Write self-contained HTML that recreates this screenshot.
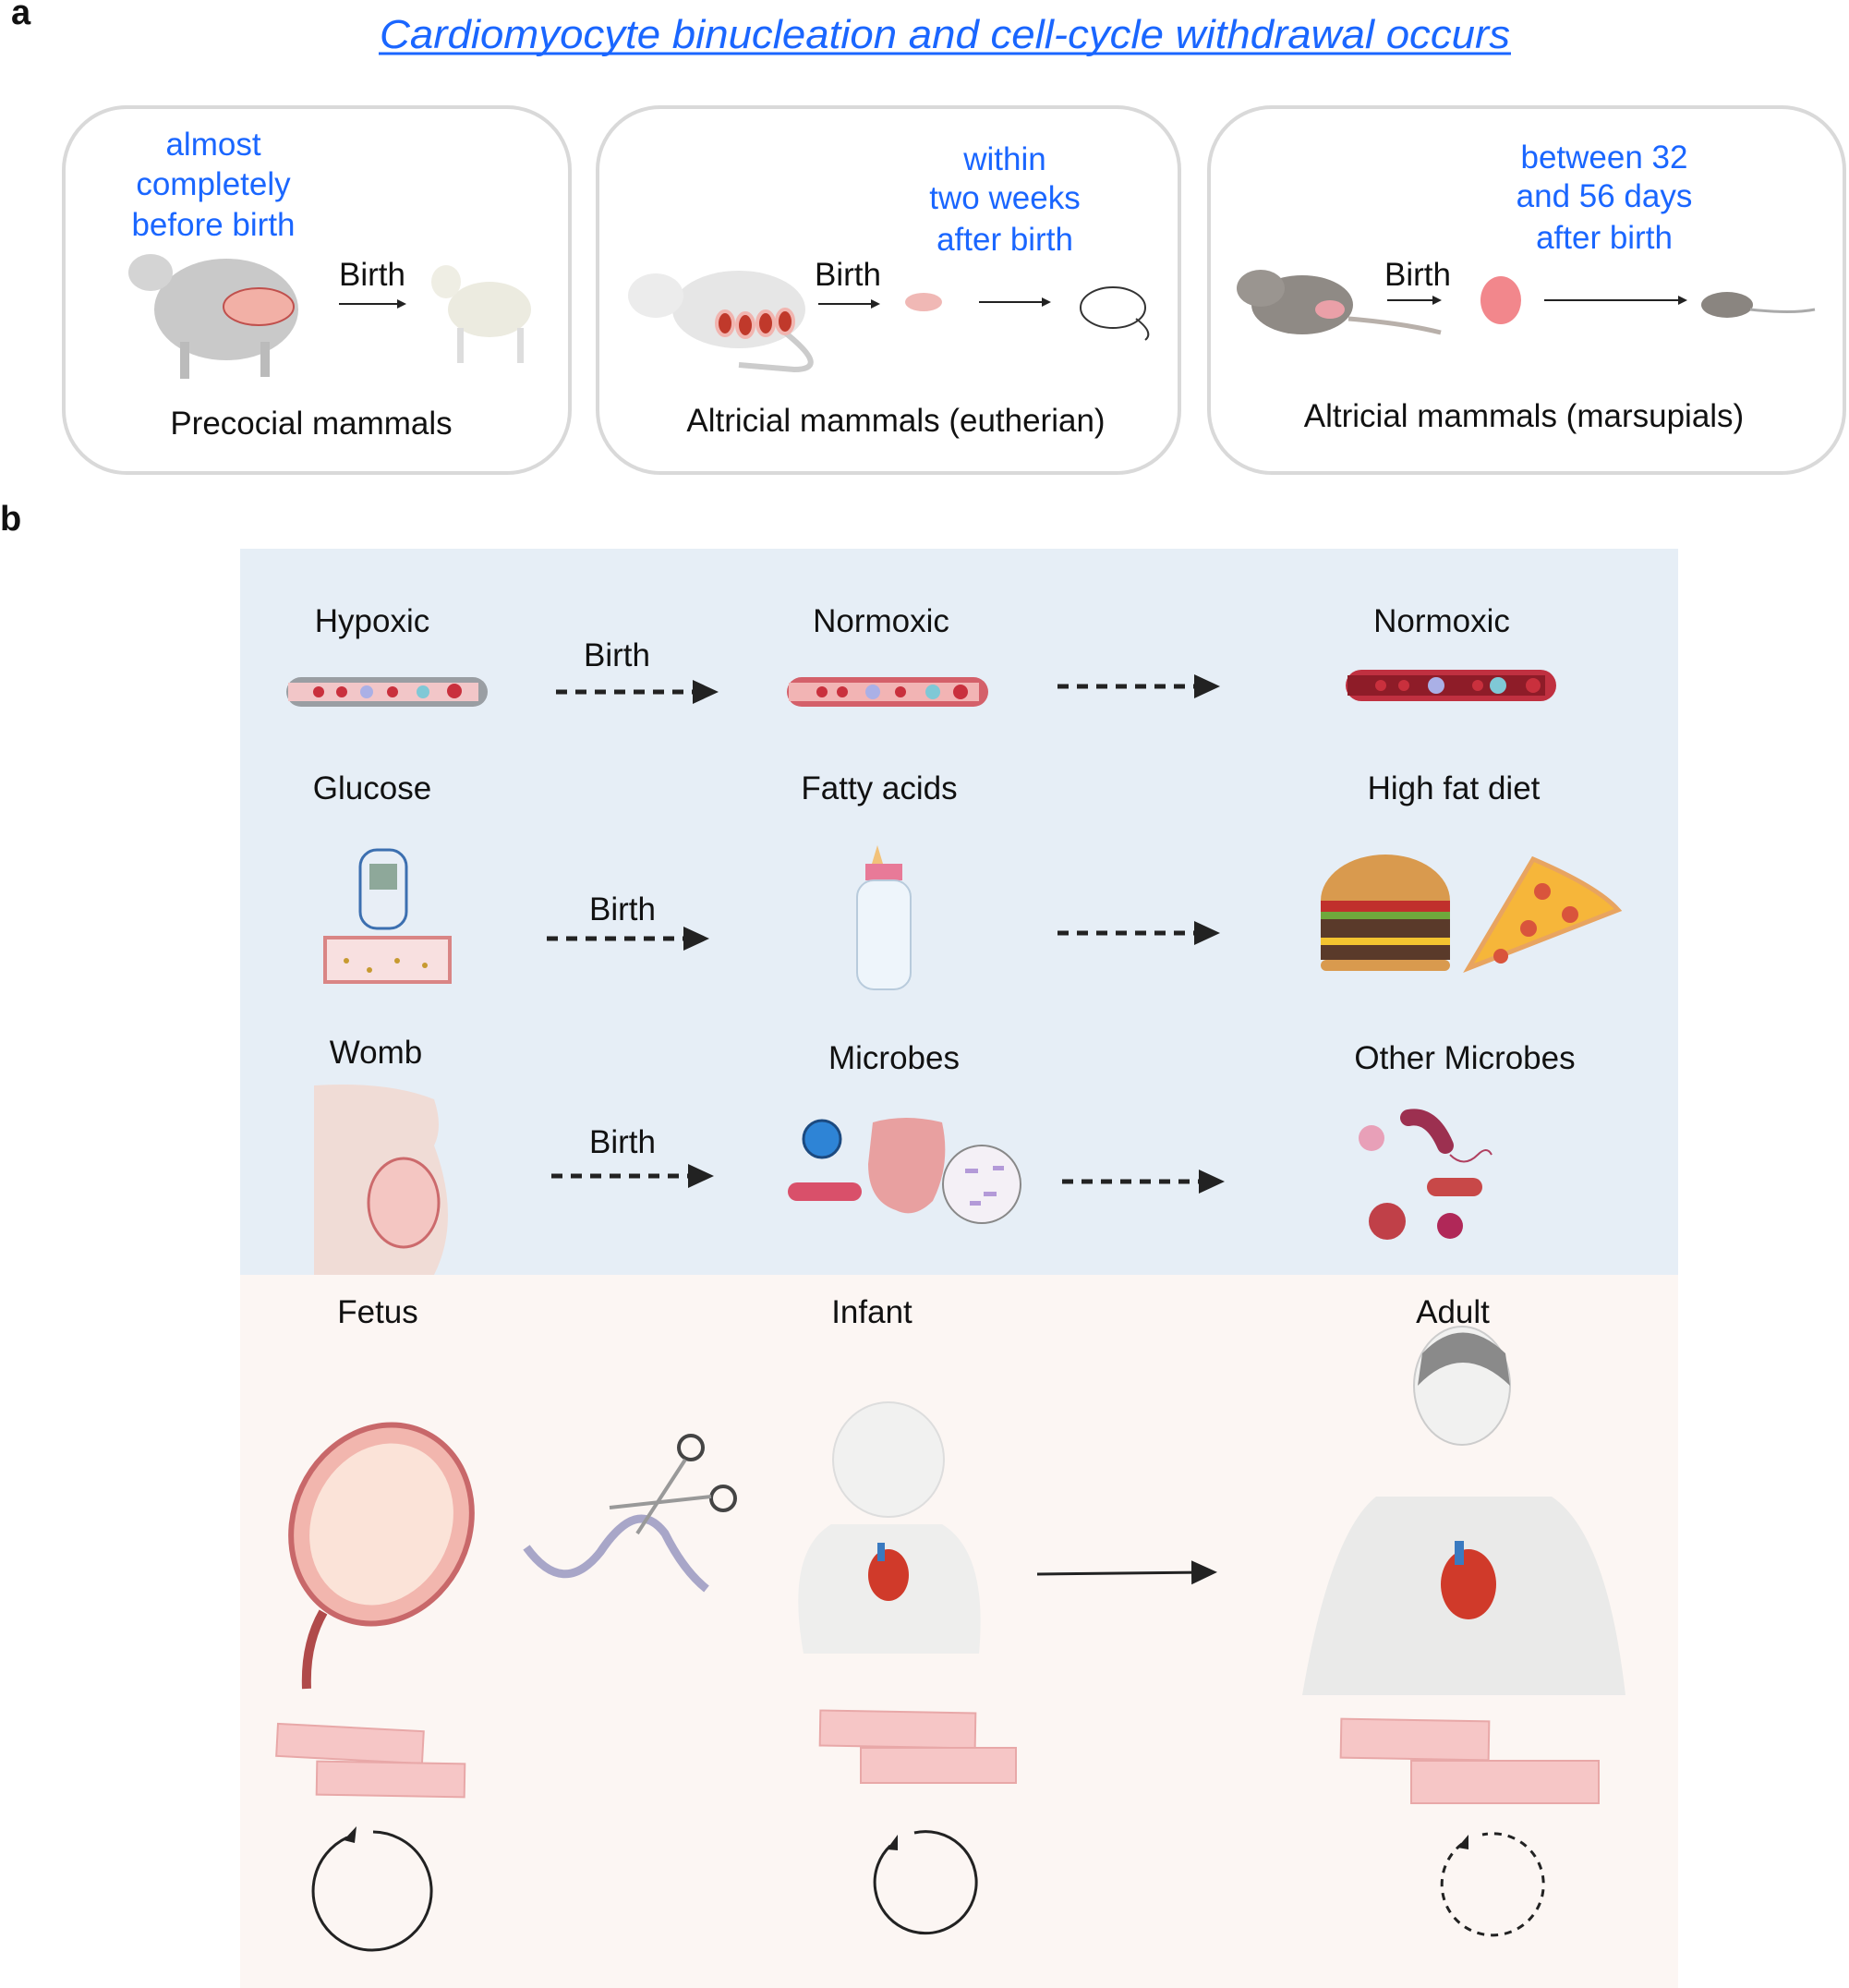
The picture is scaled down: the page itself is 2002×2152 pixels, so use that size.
<!DOCTYPE html>
<html><head><meta charset="utf-8"><style>
html,body{margin:0;padding:0;background:#fff}
svg{display:block}
text{font-family:"Liberation Sans",Arial,sans-serif}
</style></head><body>
<svg width="2002" height="2152" viewBox="0 0 2002 2152" xmlns="http://www.w3.org/2000/svg">
<defs>
<marker id="ah" markerWidth="10" markerHeight="10" refX="7" refY="5" orient="auto" markerUnits="userSpaceOnUse"><path d="M0,0 L10,5 L0,10 Z" fill="#222"/></marker>
<marker id="ab" markerWidth="30" markerHeight="30" refX="20" refY="15" orient="auto" markerUnits="userSpaceOnUse"><path d="M0,2 L28,15 L0,28 Z" fill="#222"/></marker>
</defs>
<rect width="2002" height="2152" fill="#fff"/>
<!-- panel a -->
<text x="12" y="26" font-size="38" font-weight="bold" fill="#111">a</text>
<text x="411" y="52" font-size="44" font-style="italic" fill="#1a66ff" textLength="1224" lengthAdjust="spacingAndGlyphs">Cardiomyocyte binucleation and cell-cycle withdrawal occurs</text>
<line x1="410" y1="58" x2="1636" y2="58" stroke="#1a66ff" stroke-width="3"/>
<g fill="#fff" stroke="#d9d9d9" stroke-width="4">
<rect x="69" y="116" width="548" height="396" rx="68"/>
<rect x="647" y="116" width="630" height="396" rx="68"/>
<rect x="1309" y="116" width="688" height="396" rx="68"/>
</g>
<g font-size="35" fill="#1a66ff" text-anchor="middle">
<text x="231" y="168">almost</text><text x="231" y="211">completely</text><text x="231" y="255">before birth</text>
<text x="1088" y="184">within</text><text x="1088" y="226">two weeks</text><text x="1088" y="271">after birth</text>
<text x="1737" y="182">between 32</text><text x="1737" y="224">and 56 days</text><text x="1737" y="269">after birth</text>
</g>
<g font-size="35" fill="#111" text-anchor="middle">
<text x="337" y="470">Precocial mammals</text>
<text x="970" y="467">Altricial mammals (eutherian)</text>
<text x="1650" y="462">Altricial mammals (marsupials)</text>
<text x="403" y="309">Birth</text><text x="918" y="309">Birth</text><text x="1535" y="309">Birth</text>
</g>
<g stroke="#222" stroke-width="2" marker-end="url(#ah)">
<line x1="367" y1="329" x2="437" y2="329"/>
<line x1="886" y1="329" x2="950" y2="329"/>
<line x1="1060" y1="327" x2="1135" y2="327"/>
<line x1="1502" y1="325" x2="1558" y2="325"/>
<line x1="1672" y1="325" x2="1824" y2="325"/>
</g>
<!-- sheep -->
<g><ellipse cx="245" cy="335" rx="78" ry="55" fill="#c9c9c9"/><ellipse cx="163" cy="295" rx="24" ry="20" fill="#d4d4d4"/>
<rect x="195" y="370" width="10" height="40" fill="#bbb"/><rect x="282" y="370" width="10" height="38" fill="#bbb"/>
<ellipse cx="280" cy="332" rx="38" ry="20" fill="#f2b0a6" stroke="#c0504d" stroke-width="2"/></g>
<g><ellipse cx="530" cy="335" rx="45" ry="30" fill="#ecebe0"/><ellipse cx="483" cy="305" rx="16" ry="18" fill="#efeee4"/>
<rect x="495" y="355" width="7" height="38" fill="#ddd"/><rect x="560" y="355" width="7" height="38" fill="#ddd"/></g>
<!-- mouse -->
<g><ellipse cx="800" cy="335" rx="72" ry="42" fill="#e6e6e6"/><ellipse cx="710" cy="320" rx="30" ry="24" fill="#ececec"/>
<path d="M850,360 Q900,400 860,400 L800,395" stroke="#ccc" stroke-width="6" fill="none"/>
<g fill="#c0392b" stroke="#f1b5b0" stroke-width="4"><ellipse cx="785" cy="350" rx="9" ry="13"/><ellipse cx="807" cy="352" rx="9" ry="13"/><ellipse cx="829" cy="350" rx="9" ry="13"/><ellipse cx="850" cy="348" rx="9" ry="13"/></g></g>
<ellipse cx="1000" cy="327" rx="20" ry="10" fill="#f0b8b5"/>
<g fill="#fff" stroke="#333" stroke-width="2"><ellipse cx="1205" cy="333" rx="35" ry="22"/><path d="M1230,345 Q1250,360 1240,368" fill="none"/></g>
<!-- opossum -->
<g><ellipse cx="1410" cy="330" rx="55" ry="32" fill="#8f8a85"/><ellipse cx="1365" cy="312" rx="26" ry="20" fill="#9a9590"/>
<path d="M1460,345 Q1520,350 1560,360" stroke="#b8b0aa" stroke-width="5" fill="none"/>
<ellipse cx="1440" cy="335" rx="16" ry="10" fill="#eaa0a8"/></g>
<ellipse cx="1625" cy="325" rx="22" ry="26" fill="#f2878c"/>
<g><ellipse cx="1870" cy="330" rx="28" ry="14" fill="#8a8580"/><path d="M1895,335 Q1940,340 1965,335" stroke="#aaa" stroke-width="3" fill="none"/></g>

<!-- panel b -->
<text x="0" y="574" font-size="38" font-weight="bold" fill="#111">b</text>
<rect x="260" y="594" width="1557" height="786" fill="#e6eef6"/>
<rect x="260" y="1380" width="1557" height="772" fill="#fcf6f3"/>
<g font-size="35" fill="#111" text-anchor="middle">
<text x="403" y="684">Hypoxic</text><text x="668" y="721">Birth</text><text x="954" y="684">Normoxic</text><text x="1561" y="684">Normoxic</text>
<text x="403" y="865">Glucose</text><text x="952" y="865">Fatty acids</text><text x="1574" y="865">High fat diet</text><text x="674" y="996">Birth</text>
<text x="407" y="1151">Womb</text><text x="968" y="1157">Microbes</text><text x="1586" y="1157">Other Microbes</text><text x="674" y="1248">Birth</text>
<text x="409" y="1432">Fetus</text><text x="944" y="1432">Infant</text><text x="1573" y="1432">Adult</text>
</g>
<g stroke="#222" stroke-width="5" stroke-dasharray="12,9" marker-end="url(#ab)">
<line x1="602" y1="749" x2="770" y2="749"/>
<line x1="1145" y1="743" x2="1313" y2="743"/>
<line x1="592" y1="1016" x2="760" y2="1016"/>
<line x1="1145" y1="1010" x2="1313" y2="1010"/>
<line x1="597" y1="1273" x2="765" y2="1273"/>
<line x1="1150" y1="1279" x2="1318" y2="1279"/>
</g>
<line x1="1123" y1="1704" x2="1310" y2="1702" stroke="#222" stroke-width="3" marker-end="url(#ab)"/>
<!-- vessels -->
<rect x="310" y="733" width="218" height="32" rx="16" fill="#9a9ea3"/><rect x="312" y="739" width="206" height="20" fill="#f2c6c8"/>
<rect x="852" y="733" width="218" height="32" rx="16" fill="#d4606a"/><rect x="854" y="739" width="206" height="20" fill="#f2b4b4"/>
<rect x="1457" y="725" width="228" height="34" rx="17" fill="#c03040"/><rect x="1459" y="731" width="214" height="22" fill="#8e1c28"/>
<g fill="#c9303d"><circle cx="345" cy="749" r="6"/><circle cx="370" cy="749" r="6"/><circle cx="425" cy="749" r="6"/><circle cx="492" cy="748" r="8"/>
<circle cx="890" cy="749" r="6"/><circle cx="912" cy="749" r="6"/><circle cx="975" cy="749" r="6"/><circle cx="1040" cy="749" r="8"/>
<circle cx="1495" cy="742" r="6"/><circle cx="1520" cy="742" r="6"/><circle cx="1600" cy="742" r="6"/><circle cx="1660" cy="742" r="8"/></g>
<g><circle cx="397" cy="749" r="7" fill="#aab0e6"/><circle cx="458" cy="749" r="7" fill="#7fc8d6"/><circle cx="945" cy="749" r="8" fill="#aab0e6"/><circle cx="1010" cy="749" r="8" fill="#7fc8d6"/><circle cx="1555" cy="742" r="9" fill="#aab0e6"/><circle cx="1622" cy="742" r="9" fill="#7fc8d6"/></g>
<!-- glucose meter -->
<rect x="390" y="920" width="50" height="85" rx="18" fill="#e8eef6" stroke="#3c6fb0" stroke-width="3"/><rect x="400" y="935" width="30" height="28" fill="#8ea89a"/>
<rect x="352" y="1015" width="135" height="48" fill="#f8e0e0" stroke="#d98585" stroke-width="4"/>
<g fill="#c79a30"><circle cx="375" cy="1040" r="3"/><circle cx="400" cy="1050" r="3"/><circle cx="430" cy="1040" r="3"/><circle cx="460" cy="1045" r="3"/></g>
<!-- bottle -->
<path d="M950,915 l6,20 h-12z" fill="#f2c27a"/><rect x="937" y="935" width="40" height="18" fill="#e87a98"/>
<rect x="928" y="953" width="58" height="118" rx="18" fill="#eef5fb" stroke="#b8cbdc" stroke-width="2"/>
<!-- burger & pizza -->
<path d="M1430,975 a70,50 0 0 1 140,0 z" fill="#d99a4e"/><rect x="1430" y="975" width="140" height="12" fill="#c0302c"/><rect x="1430" y="987" width="140" height="8" fill="#6fa83c"/>
<rect x="1430" y="995" width="140" height="20" fill="#5a3a2a"/><rect x="1430" y="1015" width="140" height="8" fill="#f4c430"/><rect x="1430" y="1023" width="140" height="16" fill="#5a3a2a"/><rect x="1430" y="1039" width="140" height="12" rx="6" fill="#d99a4e"/>
<path d="M1590,1048 L1660,930 Q1730,960 1752,985 Z" fill="#f6b63a" stroke="#e8a460" stroke-width="5"/>
<g fill="#d9543c"><circle cx="1670" cy="965" r="9"/><circle cx="1655" cy="1005" r="9"/><circle cx="1700" cy="990" r="9"/><circle cx="1625" cy="1035" r="8"/></g>
<!-- womb -->
<path d="M340,1175 Q420,1170 470,1190 Q480,1220 470,1240 Q500,1320 470,1380 L340,1380 Z" fill="#f0dcd6"/>
<ellipse cx="437" cy="1302" rx="38" ry="48" fill="#f4c6c2" stroke="#cc6a6c" stroke-width="3"/>
<!-- microbes -->
<circle cx="890" cy="1233" r="20" fill="#2e84d6" stroke="#1c4a80" stroke-width="3"/>
<rect x="853" y="1280" width="80" height="20" rx="10" fill="#d9506a"/>
<path d="M945,1215 Q980,1205 1020,1215 Q1030,1260 1010,1300 Q990,1320 970,1310 Q940,1300 940,1260 Z" fill="#e8a0a0"/>
<circle cx="1063" cy="1282" r="42" fill="#f4f0f6" stroke="#888" stroke-width="2"/>
<g fill="#b39ad8"><rect x="1045" y="1265" width="14" height="5"/><rect x="1065" y="1290" width="14" height="5"/><rect x="1050" y="1300" width="12" height="5"/><rect x="1075" y="1262" width="12" height="5"/></g>
<!-- other microbes -->
<circle cx="1485" cy="1232" r="14" fill="#e8a0b8"/>
<path d="M1525,1210 Q1550,1205 1565,1240" stroke="#9c3050" stroke-width="18" fill="none" stroke-linecap="round"/>
<path d="M1570,1250 q15,15 30,0 q10,-10 15,0" stroke="#b04060" stroke-width="2" fill="none"/>
<rect x="1545" y="1275" width="60" height="20" rx="10" fill="#c84848"/>
<circle cx="1502" cy="1322" r="20" fill="#c04048"/><circle cx="1570" cy="1327" r="14" fill="#b02858"/>
<!-- fetus -->
<ellipse cx="413" cy="1650" rx="95" ry="110" transform="rotate(25 413 1650)" fill="#f2b6ae" stroke="#c8686a" stroke-width="6"/>
<ellipse cx="413" cy="1650" rx="75" ry="90" transform="rotate(25 413 1650)" fill="#fbe3d8"/>
<path d="M350,1745 Q330,1780 332,1828" stroke="#b04a4a" stroke-width="10" fill="none"/>
<!-- cord & scissors -->
<path d="M570,1675 Q610,1730 650,1680 Q690,1620 720,1660 Q740,1700 765,1720" stroke="#a8a6c8" stroke-width="9" fill="none"/>
<circle cx="748" cy="1567" r="13" fill="none" stroke="#444" stroke-width="4"/><circle cx="783" cy="1622" r="13" fill="none" stroke="#444" stroke-width="4"/>
<line x1="742" y1="1580" x2="690" y2="1660" stroke="#999" stroke-width="4"/><line x1="770" y1="1620" x2="660" y2="1632" stroke="#999" stroke-width="4"/>
<!-- infant -->
<ellipse cx="962" cy="1580" rx="60" ry="62" fill="#f1f1f0" stroke="#ddd" stroke-width="2"/>
<path d="M870,1790 Q850,1680 900,1650 L1020,1650 Q1070,1680 1060,1790 Z" fill="#eeeeed"/>
<ellipse cx="962" cy="1705" rx="22" ry="28" fill="#d03a2a"/><rect x="950" y="1670" width="8" height="20" fill="#3a7ac0"/>
<!-- adult -->
<ellipse cx="1583" cy="1500" rx="52" ry="64" fill="#f1f1f0" stroke="#ccc" stroke-width="2"/>
<path d="M1540,1465 Q1583,1420 1630,1465 L1635,1500 Q1583,1450 1535,1500 Z" fill="#8a8a8a"/>
<path d="M1410,1835 Q1440,1660 1490,1620 L1680,1620 Q1740,1660 1760,1835 Z" fill="#eaeae9"/>
<ellipse cx="1590" cy="1715" rx="30" ry="38" fill="#d03a2a"/><rect x="1575" y="1668" width="10" height="26" fill="#3a7ac0"/>
<!-- cardiomyocytes -->
<g fill="#f6c6c6" stroke="#e8a8a8" stroke-width="2">
<rect x="300" y="1870" width="158" height="35" transform="rotate(3 379 1887)"/><rect x="343" y="1908" width="160" height="36" transform="rotate(1 423 1926)"/>
<rect x="888" y="1853" width="168" height="38" transform="rotate(1 972 1872)"/><rect x="932" y="1892" width="168" height="38"/>
<rect x="1452" y="1862" width="160" height="42" transform="rotate(1 1532 1883)"/><rect x="1528" y="1906" width="203" height="46"/>
</g>
<!-- cell cycle circles -->
<g fill="none" stroke="#222" stroke-width="3">
<path d="M376,1989 A64,64 0 1 0 404,1983"/><path d="M964,1998 A55,55 0 1 0 990,1984"/>
<path d="M1583,1996 A55,55 0 1 0 1605,1986" stroke-dasharray="8,7"/>
</g>
<g fill="#222"><path d="M372,1992 l14,-15 l-2,18z"/><path d="M960,2002 l12,-16 l0,17z"/><path d="M1578,2000 l12,-14 l0,16z"/></g>
</svg>
</body></html>
